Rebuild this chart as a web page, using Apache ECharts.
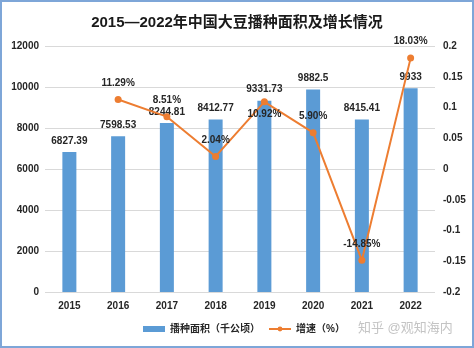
<!DOCTYPE html>
<html>
<head>
<meta charset="utf-8">
<script src="https://cdn.jsdelivr.net/npm/echarts@6/dist/echarts.min.js"></script>
<style>
  html, body { margin: 0; padding: 0; background: #fff; }
  #chart { width: 474px; height: 348px; }
</style>
</head>
<body>
<div id="chart"></div>
<script>
// Soybean sown area (thousand hectares) and year-on-year growth, 2015-2022
const years = ['2015', '2016', '2017', '2018', '2019', '2020', '2021', '2022'];
const sownArea = [6827.39, 7598.53, 8244.81, 8412.77, 9331.73, 9882.5, 8415.41, 9933];
const growthRate = [null, 0.1129, 0.0851, 0.0204, 0.1092, 0.059, -0.1485, 0.1803];
const growthLabels = [null, '11.29%', '8.51%', '2.04%', '10.92%', '5.90%', '-14.85%', '18.03%'];
// the 2019 growth label sits under its marker
const growthLabelBelow = [false, false, false, false, true, false, false, false];

const FONT = '"Liberation Sans", "Noto Sans CJK SC", sans-serif';
const TEXT = '#262626';

const chart = echarts.init(document.getElementById('chart'), null, { renderer: 'canvas' });

chart.setOption({
  animation: false,
  backgroundColor: '#ffffff',
  textStyle: { fontFamily: FONT },
  title: {
    text: '2015—2022年中国大豆播种面积及增长情况',
    left: 'center',
    top: 10,
    textStyle: { fontFamily: FONT, fontSize: 15, fontWeight: 'bold', color: '#1a1a1a' }
  },
  grid: { left: 45, right: 39, top: 46, bottom: 56, containLabel: false },
  legend: {
    bottom: 9,
    left: 138,
    itemGap: 8,
    itemWidth: 22,
    itemHeight: 6,
    textStyle: { fontFamily: FONT, fontSize: 10, fontWeight: 'bold', color: TEXT },
    data: [
      { name: '播种面积（千公顷）', icon: 'rect' },
      { name: '增速（%）' }
    ]
  },
  xAxis: {
    type: 'category',
    data: years,
    axisLine: { show: false },
    axisTick: { show: false },
    axisLabel: { margin: 9, fontSize: 10, fontWeight: 'bold', color: TEXT, fontFamily: FONT }
  },
  yAxis: [
    {
      type: 'value',
      min: 0,
      max: 12000,
      interval: 2000,
      axisLine: { show: false },
      axisTick: { show: false },
      axisLabel: {
        margin: 6,
        fontSize: 10,
        fontWeight: 'bold',
        color: TEXT,
        fontFamily: FONT,
        formatter: v => String(v)
      },
      splitLine: { lineStyle: { color: '#d9d9d9', width: 1 } }
    },
    {
      type: 'value',
      min: -0.2,
      max: 0.2,
      interval: 0.05,
      axisLine: { show: false },
      axisTick: { show: false },
      splitLine: { show: false },
      axisLabel: {
        margin: 8,
        fontSize: 10,
        fontWeight: 'bold',
        color: TEXT,
        fontFamily: FONT,
        formatter: v => String(+v.toFixed(2))
      }
    }
  ],
  series: [
    {
      name: '播种面积（千公顷）',
      type: 'bar',
      yAxisIndex: 0,
      barWidth: 14,
      itemStyle: { color: '#5B9BD5' },
      label: {
        show: true,
        position: 'top',
        distance: 6,
        fontSize: 10,
        fontWeight: 'bold',
        color: TEXT,
        fontFamily: FONT
      },
      data: sownArea
    },
    {
      name: '增速（%）',
      type: 'line',
      yAxisIndex: 1,
      symbol: 'circle',
      symbolSize: 7,
      lineStyle: { color: '#ED7D31', width: 2 },
      itemStyle: { color: '#ED7D31' },
      label: {
        show: true,
        fontSize: 10,
        fontWeight: 'bold',
        color: TEXT,
        fontFamily: FONT
      },
      z: 3,
      data: growthRate.map((v, i) => v === null ? null : {
        value: v,
        label: {
          formatter: growthLabels[i],
          position: growthLabelBelow[i] ? 'bottom' : 'top',
          distance: growthLabelBelow[i] ? 4 : 8
        }
      })
    }
  ],
  graphic: [
    {
      type: 'rect',
      shape: { x: 1, y: 1, width: 472, height: 346 },
      style: { fill: 'none', stroke: '#7ea6d8', lineWidth: 2 },
      silent: true
    },
    {
      type: 'text',
      left: 358,
      top: 322,
      style: {
        text: '知乎 @观知海内',
        fill: '#c4c4c4',
        fontSize: 13,
        fontFamily: FONT
      },
      silent: true
    }
  ]
});
</script>
</body>
</html>
